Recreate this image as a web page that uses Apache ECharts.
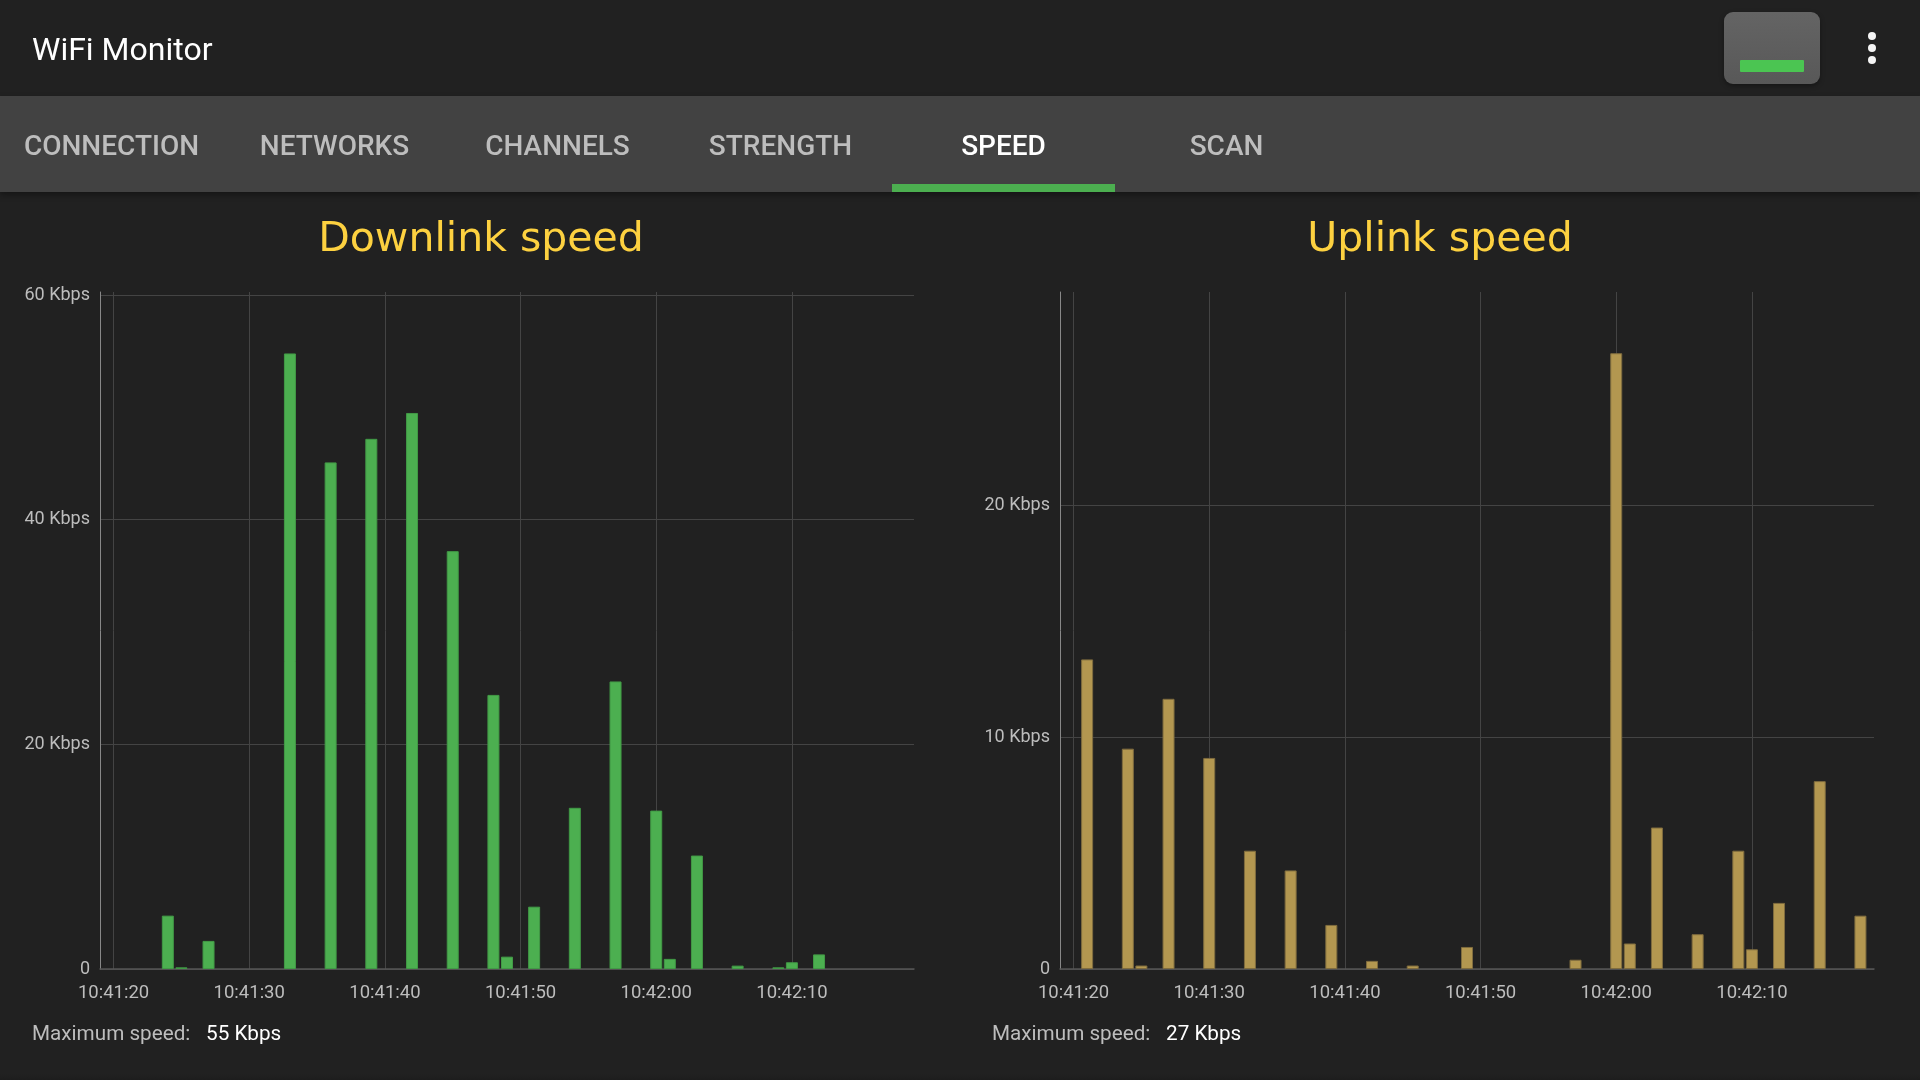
<!DOCTYPE html>
<html>
<head>
<meta charset="utf-8" />
<title>WiFi Monitor</title>
<style type="text/css">
body, html {width:1920px;height:1080px;margin:0;overflow:hidden;background:#212121;font-family:Roboto,sans-serif;}
#main {position:absolute;left:0;top:0;width:1920px;height:1080px;}
#app_title {position:absolute;left:32px;top:0;height:96px;line-height:98px;font-size:32px;color:#fff;}
#btn {position:absolute;left:1724px;top:12px;width:96px;height:72px;border-radius:9px;background:linear-gradient(#646464,#585858);box-shadow:0 2px 5px rgba(0,0,0,.35);}
#btn div {position:absolute;left:16px;top:48px;width:64px;height:12px;border-radius:1px;background:#4bc552;}
.dot {position:absolute;left:1868px;width:8px;height:8px;border-radius:50%;background:#f5f5f5;}
#tabs {position:absolute;left:0;top:96px;width:1920px;height:96px;background:#424242;box-shadow:0 3px 6px rgba(0,0,0,.35);}
.tab {position:absolute;top:0;width:223px;height:96px;line-height:99px;text-align:center;font-size:28px;font-weight:500;color:#bdbdbd;}
.tab.on {color:#fff;}
.tab.on:after {content:"";position:absolute;left:0;right:0;bottom:0;height:8px;background:#4caf50;}
.max {position:absolute;top:1017px;height:32px;line-height:32px;font-size:20.7px;color:#bdbdbd;white-space:nowrap;}
.max b {font-weight:400;color:#fff;position:absolute;left:174px;}
#bottom {position:absolute;left:0;top:1074px;width:1920px;height:6px;background:linear-gradient(#212121,#1d1d1d);}
</style>
<script type="text/javascript" src="https://cdn.jsdelivr.net/npm/echarts@6/dist/echarts.min.js"></script>
</head>
<body>
<div id="main"></div>
<div id="app_title">WiFi Monitor</div>
<div id="btn"><div></div></div>
<div class="dot" style="top:32px"></div>
<div class="dot" style="top:44px"></div>
<div class="dot" style="top:56px"></div>
<div id="tabs"></div>
<div class="max" style="left:32px">Maximum speed:<b id="max_down"></b></div>
<div class="max" style="left:992px">Maximum speed:<b id="max_up"></b></div>
<div id="bottom"></div>
<script type="text/javascript">
var tabNames = ['CONNECTION', 'NETWORKS', 'CHANNELS', 'STRENGTH', 'SPEED', 'SCAN'];
var activeTab = 'SPEED';

var tickTimes = ['10:41:20', '10:41:30', '10:41:40', '10:41:50', '10:42:00', '10:42:10'];
var startTime = '10:41:19';
var endTime = '10:42:19';

// Kbps per second, only the seconds that had traffic
var downTimes = ['10:41:24', '10:41:25', '10:41:27', '10:41:33', '10:41:36', '10:41:39', '10:41:42',
    '10:41:45', '10:41:48', '10:41:49', '10:41:51', '10:41:54', '10:41:57', '10:42:00', '10:42:01',
    '10:42:03', '10:42:06', '10:42:09', '10:42:10', '10:42:12'];
var downValues = [4.75, 0.15, 2.5, 54.8, 45.1, 47.2, 49.5, 37.2, 24.4, 1.1, 5.55, 14.35, 25.6, 14.1, 0.9, 10.1, 0.3, 0.15, 0.6, 1.3];

var upTimes = ['10:41:21', '10:41:24', '10:41:25', '10:41:27', '10:41:30', '10:41:33', '10:41:36',
    '10:41:39', '10:41:42', '10:41:45', '10:41:49', '10:41:57', '10:42:00', '10:42:01', '10:42:03',
    '10:42:06', '10:42:09', '10:42:10', '10:42:12', '10:42:15', '10:42:18'];
var upValues = [13.35, 9.5, 0.15, 11.65, 9.1, 5.1, 4.25, 1.9, 0.35, 0.15, 0.95, 0.4, 26.55, 1.1, 6.1, 1.5, 5.1, 0.85, 2.85, 8.1, 2.3];

var downTicks = [0, 20, 40, 60];
var upTicks = [0, 10, 20];
var downMax = 60.27;
var upMax = 29.19;
var downMaxText = '55 Kbps';
var upMaxText = '27 Kbps';

function toSec(t) {
    var p = t.split(':');
    return p[0] * 3600 + p[1] * 60 + p[2] * 1;
}
function toTime(s) {
    var m = Math.floor(s / 60), sec = s % 60;
    return Math.floor(m / 60) + ':' + (m % 60) + ':' + (sec < 10 ? '0' + sec : sec);
}
function pairs(times, values) {
    return times.map(function (t, i) { return [toSec(t), values[i]]; });
}
function kbps(v) {
    return v === 0 ? '0' : v + ' Kbps';
}

tabNames.forEach(function (name, i) {
    var d = document.createElement('div');
    d.className = 'tab' + (name === activeTab ? ' on' : '');
    d.style.left = (i * 223) + 'px';
    d.textContent = name;
    document.getElementById('tabs').appendChild(d);
});
document.getElementById('max_down').textContent = downMaxText;
document.getElementById('max_up').textContent = upMaxText;

function xAxisFor(gridIndex) {
    return {
        type: 'value', gridIndex: gridIndex,
        min: toSec(startTime), max: toSec(endTime),
        axisLine: {show: true, lineStyle: {color: '#555', width: 1.5}},
        axisTick: {show: false, customValues: tickTimes.map(toSec)},
        axisLabel: {
            customValues: tickTimes.map(toSec), formatter: toTime,
            color: '#bdbdbd', fontFamily: 'Roboto', fontSize: 18.5, margin: 15
        },
        splitLine: {show: true, lineStyle: {color: '#444', width: 1}}
    };
}
function yAxisFor(gridIndex, max, ticks) {
    return {
        type: 'value', gridIndex: gridIndex, min: 0, max: max,
        axisLine: {show: true, lineStyle: {color: '#888', width: 1}},
        axisTick: {show: false, customValues: ticks},
        axisLabel: {
            customValues: ticks, formatter: kbps, padding: [2, 0, 0, 0],
            color: '#bdbdbd', fontFamily: 'Roboto', fontSize: 18, margin: 10
        },
        splitLine: {show: true, lineStyle: {color: '#444', width: 1}}
    };
}
function barsFor(name, index, data, color, edge) {
    return {
        name: name, type: 'bar', xAxisIndex: index, yAxisIndex: index,
        data: data, barWidth: 12, silent: true, animation: false,
        itemStyle: {color: color, borderColor: edge, borderWidth: 1}
    };
}

var chart = echarts.init(document.getElementById('main'));
chart.setOption({
    animation: false,
    title: [
        {text: 'Downlink speed', left: 476, top: 215, textAlign: 'center',
            textStyle: {color: '#fdd140', fontFamily: 'DejaVu Sans', fontSize: 41, fontWeight: 400}},
        {text: 'Uplink speed', left: 1435, top: 215, textAlign: 'center',
            textStyle: {color: '#fdd140', fontFamily: 'DejaVu Sans', fontSize: 41, fontWeight: 400}}
    ],
    grid: [
        {left: 100, top: 292, width: 814, height: 677},
        {left: 1060, top: 292, width: 814, height: 677}
    ],
    xAxis: [xAxisFor(0), xAxisFor(1)],
    yAxis: [yAxisFor(0, downMax, downTicks), yAxisFor(1, upMax, upTicks)],
    series: [
        barsFor('Downlink speed', 0, pairs(downTimes, downValues), '#4caf50', '#429a46'),
        barsFor('Uplink speed', 1, pairs(upTimes, upValues), '#b39750', '#806d3f')
    ]
});
</script>
</body>
</html>
